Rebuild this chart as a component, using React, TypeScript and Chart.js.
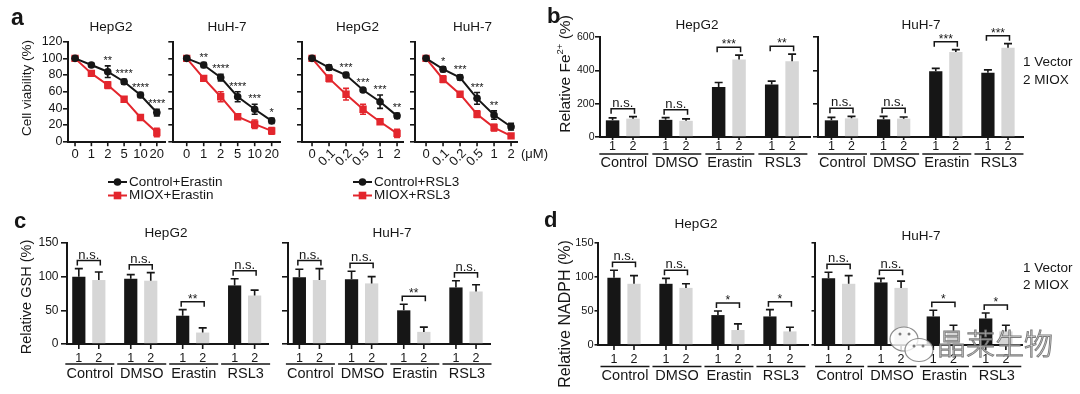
import { useEffect, useRef } from "react";
import { Chart, registerables } from "chart.js";

Chart.register(...registerables);

const W = 1080;
const H = 394;
const Y_W = 40;
const FONT = '"Liberation Sans", Arial, Helvetica, sans-serif';
const INK = "#161616";
const RED = "#e3262d";
const GREY = "#d6d6d6";

// ---------------- panel a data ----------------
const erastinDoses = ["0", "1", "2", "5", "10", "20"];
const rsl3Doses = ["0", "0.1", "0.2", "0.5", "1", "2"];
const viabilityTicks = [0, 20, 40, 60, 80, 100, 120];

const hepg2ErastinControl = [100, 92, 84, 72, 56, 35];
const hepg2ErastinControlErr = [0, 2, 7, 3, 3, 4];
const hepg2ErastinMiox = [100, 82, 68, 51, 29, 11];
const hepg2ErastinMioxErr = [0, 2, 4, 3, 3, 5];
const hepg2ErastinStars = ["", "", "**", "****", "****", "****"];

const huh7ErastinControl = [100, 92, 77, 54, 39, 25];
const huh7ErastinControlErr = [0, 3, 4, 6, 6, 3];
const huh7ErastinMiox = [100, 76, 54, 30, 21, 13];
const huh7ErastinMioxErr = [0, 2, 6, 3, 5, 4];
const huh7ErastinStars = ["", "**", "****", "****", "***", "*"];

const hepg2Rsl3Control = [100, 89, 80, 62, 48, 31];
const hepg2Rsl3ControlErr = [0, 3, 3, 2, 8, 3];
const hepg2Rsl3Miox = [100, 76, 57, 39, 24, 10];
const hepg2Rsl3MioxErr = [0, 4, 7, 6, 3, 5];
const hepg2Rsl3Stars = ["", "", "***", "***", "***", "**"];

const huh7Rsl3Control = [100, 87, 77, 52, 32, 18];
const huh7Rsl3ControlErr = [0, 3, 3, 7, 5, 4];
const huh7Rsl3Miox = [100, 75, 57, 33, 17, 7];
const huh7Rsl3MioxErr = [0, 4, 3, 4, 4, 2];
const huh7Rsl3Stars = ["", "*", "***", "***", "**", ""];

// ---------------- panels b-d data ----------------
const groupLabels = ["Control", "DMSO", "Erastin", "RSL3"];
const barNumbers = ["1", "2"];
const fe2Ticks = [0, 200, 400, 600];
const pctTicks = [0, 50, 100, 150];

const fe2HepG2Vector = [100, 103, 300, 315];
const fe2HepG2VectorErr = [15, 13, 27, 20];
const fe2HepG2Miox = [110, 97, 465, 455];
const fe2HepG2MioxErr = [12, 12, 26, 42];
const fe2HepG2Sig = ["n.s.", "n.s.", "***", "**"];

const fe2Huh7Vector = [100, 106, 395, 385];
const fe2Huh7VectorErr = [18, 18, 17, 18];
const fe2Huh7Miox = [112, 110, 510, 535];
const fe2Huh7MioxErr = [12, 10, 14, 25];
const fe2Huh7Sig = ["n.s.", "n.s.", "***", "***"];

const gshHepG2Vector = [100, 97, 42, 87];
const gshHepG2VectorErr = [12, 6, 9, 10];
const gshHepG2Miox = [95, 94, 17, 72];
const gshHepG2MioxErr = [12, 12, 7, 8];
const gshHepG2Sig = ["n.s.", "n.s.", "**", "n.s."];

const gshHuh7Vector = [99, 96, 50, 84];
const gshHuh7VectorErr = [12, 12, 9, 10];
const gshHuh7Miox = [95, 90, 18, 78];
const gshHuh7MioxErr = [17, 10, 7, 10];
const gshHuh7Sig = ["n.s.", "n.s.", "**", "n.s."];

const nadphHepG2Vector = [99, 90, 44, 42];
const nadphHepG2VectorErr = [11, 8, 6, 10];
const nadphHepG2Miox = [90, 84, 22, 20];
const nadphHepG2MioxErr = [12, 6, 9, 6];
const nadphHepG2Sig = ["n.s.", "n.s.", "*", "*"];

const nadphHuh7Vector = [98, 92, 42, 39];
const nadphHuh7VectorErr = [9, 6, 9, 8];
const nadphHuh7Miox = [90, 84, 21, 20];
const nadphHuh7MioxErr = [12, 10, 8, 9];
const nadphHuh7Sig = ["n.s.", "n.s.", "*", "*"];

// ---------------- helpers ----------------
function setFont(ctx: any, size: number, bold = false, family = FONT) {
  ctx.font = `${bold ? "bold " : ""}${size}px ${family}`;
}

function text(
  ctx: any,
  s: string,
  x: number,
  y: number,
  size: number,
  align: CanvasTextAlign = "center",
  base: CanvasTextBaseline = "middle",
  opts: { color?: string; bold?: boolean; rot?: number } = {}
) {
  ctx.save();
  setFont(ctx, size, !!opts.bold);
  ctx.fillStyle = opts.color ?? INK;
  ctx.textAlign = align;
  ctx.textBaseline = base;
  ctx.translate(x, y);
  if (opts.rot) ctx.rotate(opts.rot);
  ctx.fillText(s, 0, 0);
  ctx.restore();
}

function vTitle(ctx: any, segs: { t: string; s: number; rise?: number }[], cx: number, cy: number) {
  ctx.save();
  ctx.translate(cx, cy);
  ctx.rotate(-Math.PI / 2);
  let total = 0;
  segs.forEach((g) => {
    setFont(ctx, g.s);
    total += ctx.measureText(g.t).width;
  });
  let x = -total / 2;
  ctx.fillStyle = INK;
  ctx.textBaseline = "middle";
  ctx.textAlign = "left";
  segs.forEach((g) => {
    setFont(ctx, g.s);
    ctx.fillText(g.t, x, -(g.rise ?? 0));
    x += ctx.measureText(g.t).width;
  });
  ctx.restore();
}

function padCategories(padL: number, padR: number) {
  return (scale: any) => {
    const n = scale.getLabels().length;
    scale._startValue = -padL;
    scale._valueRange = n - 1 + padL + padR;
  };
}

type Box = { l: number; r: number; t: number; b: number };
type YStyle = { show: boolean; font: number; pad: number; len: number };

function scalesFor(padL: number, padR: number, ticks: number[], ys: YStyle) {
  return {
    x: {
      type: "category",
      offset: false,
      grid: { display: false },
      ticks: { display: false },
      border: { display: true, color: INK, width: 2 },
      afterBuildTicks: padCategories(padL, padR),
      afterFit: (s: any) => {
        s.height = 0;
      },
    },
    y: {
      type: "linear",
      min: ticks[0],
      max: ticks[ticks.length - 1],
      ticks: {
        stepSize: ticks[1] - ticks[0],
        autoSkip: false,
        display: ys.show,
        color: INK,
        padding: ys.pad,
        font: { family: FONT, size: ys.font },
      },
      grid: { display: true, drawOnChartArea: false, drawTicks: true, tickLength: ys.len, color: INK, lineWidth: 1.6 },
      border: { display: true, color: INK, width: 2 },
      afterFit: (s: any) => {
        s.width = Y_W;
      },
    },
  };
}

function baseOptions(box: Box) {
  return {
    responsive: false,
    animation: false,
    events: [],
    layout: { padding: { left: box.l - Y_W, top: box.t, right: W - box.r, bottom: H - box.b } },
    plugins: { legend: { display: false }, tooltip: { enabled: false }, title: { display: false } },
  };
}

// ---------------- line charts (panel a) ----------------
type LineSpec = {
  labels: string[];
  ctrl: number[];
  ctrlErr: number[];
  miox: number[];
  mioxErr: number[];
  stars: string[];
  box: Box;
  padL: number;
  padR: number;
  showY: boolean;
  title: string;
  tx: number;
  ty: number;
};

function makeLine(spec: LineSpec, extra: any[] = []) {
  const decor = {
    id: "lineDecor",
    beforeDatasetsDraw(chart: any) {
      const ctx = chart.ctx;
      const ys = chart.scales.y;
      const sets: [number[], number[], string, number][] = [
        [spec.miox, spec.mioxErr, RED, 1],
        [spec.ctrl, spec.ctrlErr, INK, 0],
      ];
      sets.forEach(([vals, errs, col, di]) => {
        const meta = chart.getDatasetMeta(di);
        vals.forEach((v, i) => {
          if (!errs[i]) return;
          const x = meta.data[i].x;
          const y1 = ys.getPixelForValue(v + errs[i]);
          const y2 = ys.getPixelForValue(v - errs[i]);
          ctx.save();
          ctx.strokeStyle = col;
          ctx.lineWidth = 1.6;
          ctx.beginPath();
          ctx.moveTo(x, y1);
          ctx.lineTo(x, y2);
          ctx.moveTo(x - 3, y1);
          ctx.lineTo(x + 3, y1);
          ctx.moveTo(x - 3, y2);
          ctx.lineTo(x + 3, y2);
          ctx.stroke();
          ctx.restore();
        });
      });
    },
    afterDraw(chart: any) {
      const ctx = chart.ctx;
      const ys = chart.scales.y;
      const bottom = chart.chartArea.bottom;
      const meta = chart.getDatasetMeta(0);
      spec.labels.forEach((lab, i) => {
        const x = meta.data[i].x;
        ctx.save();
        ctx.strokeStyle = INK;
        ctx.lineWidth = 1.6;
        ctx.beginPath();
        ctx.moveTo(x, bottom);
        ctx.lineTo(x, bottom + 4.5);
        ctx.stroke();
        ctx.restore();
        if (lab.includes(".")) {
          text(ctx, lab, x - 2, bottom + 16, 13, "center", "middle", { rot: -Math.PI / 4 });
        } else {
          text(ctx, lab, x, bottom + 12.5, 13);
        }
        if (spec.stars[i]) {
          const yTop = ys.getPixelForValue(spec.ctrl[i] + spec.ctrlErr[i]);
          text(ctx, spec.stars[i], x, yTop - 2, 11, "center", "alphabetic");
        }
      });
      text(ctx, spec.title, spec.tx, spec.ty, 13.5);
    },
  };
  return {
    type: "line",
    data: {
      labels: spec.labels,
      datasets: [
        {
          data: spec.ctrl,
          borderColor: INK,
          backgroundColor: INK,
          pointBackgroundColor: INK,
          pointBorderColor: INK,
          pointStyle: "circle",
          pointRadius: 3.8,
          pointBorderWidth: 0,
          borderWidth: 2,
          tension: 0,
        },
        {
          data: spec.miox,
          borderColor: RED,
          backgroundColor: RED,
          pointBackgroundColor: RED,
          pointBorderColor: RED,
          pointStyle: "rect",
          pointRadius: 5.2,
          pointBorderWidth: 0,
          borderWidth: 2,
          tension: 0,
        },
      ],
    },
    options: {
      ...baseOptions(spec.box),
      scales: scalesFor(spec.padL, spec.padR, viabilityTicks, { show: spec.showY, font: 12.5, pad: 0.5, len: 5 }),
    },
    plugins: [decor, ...extra],
  };
}

// ---------------- bar charts (panels b-d) ----------------
type BarSpec = {
  vec: number[];
  vecErr: number[];
  miox: number[];
  mioxErr: number[];
  sig: string[];
  ticks: number[];
  box: Box;
  padL: number;
  padR: number;
  y: YStyle;
  tickLen: number;
  numDy: number;
  lineDy: number;
  grpDy: number;
  title: string;
  tx: number;
  ty: number;
};

function makeBar(spec: BarSpec, extra: any[] = []) {
  const decor = {
    id: "barDecor",
    afterDatasetsDraw(chart: any) {
      const ctx = chart.ctx;
      const xs = chart.scales.x;
      const ys = chart.scales.y;
      const bottom = chart.chartArea.bottom;
      const tops: number[][] = [[], []];
      const xsBars: number[][] = [[], []];
      [0, 1].forEach((di) => {
        const meta = chart.getDatasetMeta(di);
        const vals = di ? spec.miox : spec.vec;
        const errs = di ? spec.mioxErr : spec.vecErr;
        meta.data.forEach((bar: any, j: number) => {
          const yTop = ys.getPixelForValue(vals[j] + errs[j]);
          tops[di][j] = yTop;
          xsBars[di][j] = bar.x;
          ctx.save();
          ctx.strokeStyle = INK;
          ctx.lineWidth = 1.6;
          ctx.beginPath();
          ctx.moveTo(bar.x, bar.y);
          ctx.lineTo(bar.x, yTop);
          ctx.moveTo(bar.x - 4, yTop);
          ctx.lineTo(bar.x + 4, yTop);
          ctx.moveTo(bar.x, bottom);
          ctx.lineTo(bar.x, bottom + spec.tickLen);
          ctx.stroke();
          ctx.restore();
          text(ctx, barNumbers[di], bar.x, bottom + spec.numDy, 12.5);
        });
      });
      groupLabels.forEach((g, j) => {
        const cx = xs.getPixelForValue(j);
        ctx.save();
        ctx.strokeStyle = INK;
        ctx.lineWidth = 1.5;
        ctx.beginPath();
        ctx.moveTo(cx - 23.5, bottom + spec.lineDy);
        ctx.lineTo(cx + 25.5, bottom + spec.lineDy);
        ctx.stroke();
        ctx.restore();
        text(ctx, g, cx + 1, bottom + spec.grpDy, 14.5);

        const x0 = xsBars[0][j] - 1.5;
        const x1 = xsBars[1][j] + 1.5;
        const yb = Math.min(tops[0][j], tops[1][j]) - 8;
        ctx.save();
        ctx.strokeStyle = INK;
        ctx.lineWidth = 1.5;
        ctx.beginPath();
        ctx.moveTo(x0, yb + 5);
        ctx.lineTo(x0, yb);
        ctx.lineTo(x1, yb);
        ctx.lineTo(x1, yb + 5);
        ctx.stroke();
        ctx.restore();
        const s = spec.sig[j];
        const mid = (x0 + x1) / 2;
        if (s === "n.s.") text(ctx, s, mid, yb - 2, 13, "center", "alphabetic");
        else text(ctx, s, mid, yb + 1, 12, "center", "alphabetic");
      });
    },
    afterDraw(chart: any) {
      text(chart.ctx, spec.title, spec.tx, spec.ty, 13.5);
    },
  };
  return {
    type: "bar",
    data: {
      labels: groupLabels,
      datasets: [
        { data: spec.vec, backgroundColor: INK, borderWidth: 0, categoryPercentage: 0.77, barPercentage: 0.66 },
        { data: spec.miox, backgroundColor: GREY, borderWidth: 0, categoryPercentage: 0.77, barPercentage: 0.66 },
      ],
    },
    options: {
      ...baseOptions(spec.box),
      scales: scalesFor(spec.padL, spec.padR, spec.ticks, spec.y),
    },
    plugins: [decor, ...extra],
  };
}

// ---------------- page-level texts ----------------
const overlay = {
  id: "pageOverlay",
  afterDraw(chart: any) {
    const ctx = chart.ctx;
    // panel letters
    text(ctx, "a", 11, 25, 23, "left", "alphabetic", { bold: true });
    text(ctx, "b", 547, 23, 22, "left", "alphabetic", { bold: true });
    text(ctx, "c", 14, 228, 22, "left", "alphabetic", { bold: true });
    text(ctx, "d", 544, 227, 22, "left", "alphabetic", { bold: true });

    // y-axis titles
    vTitle(ctx, [{ t: "Cell viability (%)", s: 13.5 }], 27, 88);
    vTitle(
      ctx,
      [
        { t: "Relative Fe", s: 15.5 },
        { t: "2+", s: 9.5, rise: 5.5 },
        { t: " (%)", s: 15.5 },
      ],
      566,
      74
    );
    vTitle(ctx, [{ t: "Relative GSH (%)", s: 14.5 }], 27, 297);
    vTitle(ctx, [{ t: "Relative NADPH (%)", s: 16 }], 566, 314);

    // unit
    text(ctx, "(\u03bcM)", 521, 154, 13, "left");

    // legends panel a
    const legend = (x0: number, y: number, color: string, square: boolean, label: string) => {
      ctx.save();
      ctx.strokeStyle = color;
      ctx.fillStyle = color;
      ctx.lineWidth = 2;
      ctx.beginPath();
      ctx.moveTo(x0, y);
      ctx.lineTo(x0 + 19, y);
      ctx.stroke();
      if (square) ctx.fillRect(x0 + 9.5 - 3.8, y - 3.8, 7.6, 7.6);
      else {
        ctx.beginPath();
        ctx.arc(x0 + 9.5, y, 3.8, 0, Math.PI * 2);
        ctx.fill();
      }
      ctx.restore();
      text(ctx, label, x0 + 21, y, 13.5, "left");
    };
    legend(108, 182, INK, false, "Control+Erastin");
    legend(108, 195.5, RED, true, "MIOX+Erastin");
    legend(353, 182, INK, false, "Control+RSL3");
    legend(353, 195.5, RED, true, "MIOX+RSL3");

    // legends panels b, d
    text(ctx, "1 Vector", 1023, 62, 13.5, "left");
    text(ctx, "2 MIOX", 1023, 80, 13.5, "left");
    text(ctx, "1 Vector", 1023, 268, 13.5, "left");
    text(ctx, "2 MIOX", 1023, 285, 13.5, "left");

    // watermark
    ctx.save();
    ctx.lineWidth = 1.2;
    ctx.strokeStyle = "rgba(120,120,120,0.85)";
    ctx.fillStyle = "rgba(255,255,255,0.8)";
    ctx.beginPath();
    ctx.ellipse(904, 339, 14, 12, 0, 0, Math.PI * 2);
    ctx.fill();
    ctx.stroke();
    ctx.beginPath();
    ctx.ellipse(919, 350, 14, 11.5, 0, 0, Math.PI * 2);
    ctx.fill();
    ctx.stroke();
    ctx.fillStyle = "rgba(110,110,110,0.9)";
    [
      [900, 334],
      [909, 334],
      [914, 346],
      [923, 346],
    ].forEach(([x, y]) => {
      ctx.beginPath();
      ctx.arc(x, y, 1.5, 0, Math.PI * 2);
      ctx.fill();
    });
    ctx.font = `300 29px "Noto Sans CJK SC", sans-serif`;
    ctx.textAlign = "left";
    ctx.textBaseline = "middle";
    ctx.fillStyle = "rgba(255,255,255,0.75)";
    ctx.fillText("\u6676\u83b1\u751f\u7269", 937, 344);
    ctx.strokeStyle = "rgba(110,110,110,0.9)";
    ctx.lineWidth = 1;
    ctx.strokeText("\u6676\u83b1\u751f\u7269", 937, 344);
    ctx.restore();
  },
};

// ---------------- chart list ----------------
const A_BOX_T = 41.7;
const A_BOX_B = 141.7;
const Y_B = { font: 10.5, pad: 0.5, len: 5 };
const Y_C = { font: 12, pad: 2.5, len: 6 };
const Y_D = { font: 11, pad: 1, len: 3.5 };

const CHARTS: (() => any)[] = [
  () =>
    makeLine({
      labels: erastinDoses,
      ctrl: hepg2ErastinControl,
      ctrlErr: hepg2ErastinControlErr,
      miox: hepg2ErastinMiox,
      mioxErr: hepg2ErastinMioxErr,
      stars: hepg2ErastinStars,
      box: { l: 68, r: 165, t: A_BOX_T, b: A_BOX_B },
      padL: 0.43,
      padR: 0.5,
      showY: true,
      title: "HepG2",
      tx: 111,
      ty: 27,
    }),
  () =>
    makeLine({
      labels: erastinDoses,
      ctrl: huh7ErastinControl,
      ctrlErr: huh7ErastinControlErr,
      miox: huh7ErastinMiox,
      mioxErr: huh7ErastinMioxErr,
      stars: huh7ErastinStars,
      box: { l: 173.3, r: 280, t: A_BOX_T, b: A_BOX_B },
      padL: 0.79,
      padR: 0.49,
      showY: false,
      title: "HuH-7",
      tx: 227,
      ty: 27,
    }),
  () =>
    makeLine({
      labels: rsl3Doses,
      ctrl: hepg2Rsl3Control,
      ctrlErr: hepg2Rsl3ControlErr,
      miox: hepg2Rsl3Miox,
      mioxErr: hepg2Rsl3MioxErr,
      stars: hepg2Rsl3Stars,
      box: { l: 302, r: 403, t: A_BOX_T, b: A_BOX_B },
      padL: 0.59,
      padR: 0.35,
      showY: false,
      title: "HepG2",
      tx: 357.5,
      ty: 27,
    }),
  () =>
    makeLine({
      labels: rsl3Doses,
      ctrl: huh7Rsl3Control,
      ctrlErr: huh7Rsl3ControlErr,
      miox: huh7Rsl3Miox,
      mioxErr: huh7Rsl3MioxErr,
      stars: huh7Rsl3Stars,
      box: { l: 415, r: 517, t: A_BOX_T, b: A_BOX_B },
      padL: 0.65,
      padR: 0.35,
      showY: false,
      title: "HuH-7",
      tx: 472.5,
      ty: 27,
    }),
  () =>
    makeBar({
      vec: fe2HepG2Vector,
      vecErr: fe2HepG2VectorErr,
      miox: fe2HepG2Miox,
      mioxErr: fe2HepG2MioxErr,
      sig: fe2HepG2Sig,
      ticks: fe2Ticks,
      box: { l: 600, r: 810, t: 37, b: 137 },
      padL: 0.43,
      padR: 0.53,
      y: { show: true, ...Y_B },
      tickLen: 3,
      numDy: 9.5,
      lineDy: 17,
      grpDy: 25.5,
      title: "HepG2",
      tx: 697,
      ty: 25,
    }),
  () =>
    makeBar({
      vec: fe2Huh7Vector,
      vecErr: fe2Huh7VectorErr,
      miox: fe2Huh7Miox,
      mioxErr: fe2Huh7MioxErr,
      sig: fe2Huh7Sig,
      ticks: fe2Ticks,
      box: { l: 818, r: 1023, t: 37, b: 137 },
      padL: 0.45,
      padR: 0.48,
      y: { show: false, ...Y_B },
      tickLen: 3,
      numDy: 9.5,
      lineDy: 17,
      grpDy: 25.5,
      title: "HuH-7",
      tx: 921,
      ty: 25,
    }),
  () =>
    makeBar({
      vec: gshHepG2Vector,
      vecErr: gshHepG2VectorErr,
      miox: gshHepG2Miox,
      mioxErr: gshHepG2MioxErr,
      sig: gshHepG2Sig,
      ticks: pctTicks,
      box: { l: 67, r: 268, t: 243, b: 344 },
      padL: 0.42,
      padR: 0.45,
      y: { show: true, ...Y_C },
      tickLen: 5,
      numDy: 14.5,
      lineDy: 20,
      grpDy: 30,
      title: "HepG2",
      tx: 166,
      ty: 233,
    }),
  () =>
    makeBar({
      vec: gshHuh7Vector,
      vecErr: gshHuh7VectorErr,
      miox: gshHuh7Miox,
      mioxErr: gshHuh7MioxErr,
      sig: gshHuh7Sig,
      ticks: pctTicks,
      box: { l: 288, r: 490, t: 243, b: 344 },
      padL: 0.41,
      padR: 0.46,
      y: { show: false, ...Y_C },
      tickLen: 5,
      numDy: 14.5,
      lineDy: 20,
      grpDy: 30,
      title: "HuH-7",
      tx: 392,
      ty: 233,
    }),
  () =>
    makeBar({
      vec: nadphHepG2Vector,
      vecErr: nadphHepG2VectorErr,
      miox: nadphHepG2Miox,
      mioxErr: nadphHepG2MioxErr,
      sig: nadphHepG2Sig,
      ticks: pctTicks,
      box: { l: 598, r: 808, t: 243, b: 345 },
      padL: 0.5,
      padR: 0.54,
      y: { show: true, ...Y_D },
      tickLen: 5,
      numDy: 14.5,
      lineDy: 21.5,
      grpDy: 31,
      title: "HepG2",
      tx: 696,
      ty: 224,
    }),
  () =>
    makeBar(
      {
        vec: nadphHuh7Vector,
        vecErr: nadphHuh7VectorErr,
        miox: nadphHuh7Miox,
        mioxErr: nadphHuh7MioxErr,
        sig: nadphHuh7Sig,
        ticks: pctTicks,
        box: { l: 815, r: 1022, t: 243, b: 345 },
        padL: 0.45,
        padR: 0.5,
        y: { show: false, ...Y_D },
        tickLen: 5,
        numDy: 14.5,
        lineDy: 21.5,
        grpDy: 31,
        title: "HuH-7",
        tx: 921,
        ty: 236,
      },
      [overlay]
    ),
];

export default function App() {
  const refs = useRef<(HTMLCanvasElement | null)[]>([]);
  useEffect(() => {
    const charts = CHARTS.map((make, i) => new Chart(refs.current[i] as HTMLCanvasElement, make()));
    return () => charts.forEach((c) => c.destroy());
  }, []);
  return (
    <div
      style={{
        position: "absolute",
        left: 0,
        top: 0,
        width: W,
        height: H,
        background: "#fff",
        overflow: "hidden",
      }}
    >
      {CHARTS.map((_, i) => (
        <canvas
          key={i}
          ref={(el) => {
            refs.current[i] = el;
          }}
          width={W}
          height={H}
          style={{ position: "absolute", left: 0, top: 0, width: W, height: H }}
        />
      ))}
    </div>
  );
}
